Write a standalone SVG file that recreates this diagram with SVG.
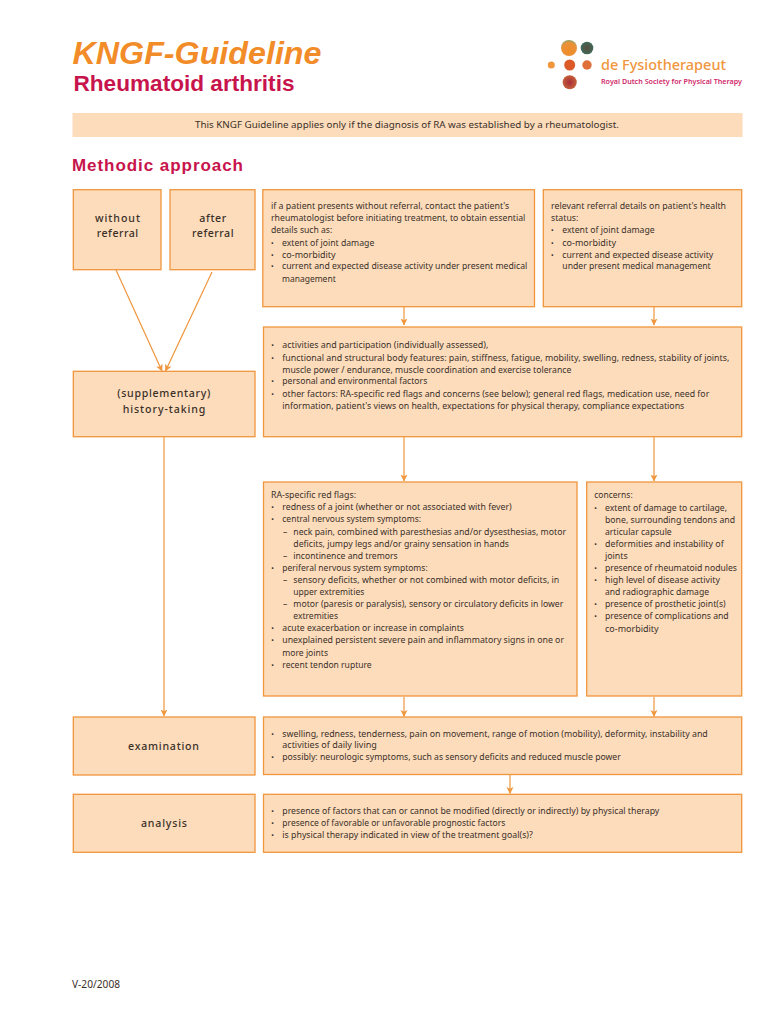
<svg xmlns="http://www.w3.org/2000/svg" width="768" height="1024" viewBox="0 0 768 1024">
<style>
text{font-family:"Noto Sans","Open Sans","DejaVu Sans",sans-serif;fill:#3a3028}
.b{fill:#fddcbc;stroke:#f0963c;stroke-width:1.3}
.c{stroke:#f0963c;stroke-width:1.2;fill:none}
.t{font-size:8.6px}
.d{font-size:7px}
.l{font-size:10.6px;font-weight:500}
.h{font-family:"Liberation Sans",Arial,sans-serif;font-weight:700}
</style>
<defs>
<marker id="a" markerUnits="userSpaceOnUse" markerWidth="8" markerHeight="8" refX="6.5" refY="3.5" orient="auto"><path d="M0 0L7 3.5L0 7L1.8 3.5Z" fill="#f0963c"/></marker>
<radialGradient id="g1" cy=".65" r=".62"><stop offset="0" stop-color="#f08c28"/><stop offset=".8" stop-color="#e8923a"/><stop offset="1" stop-color="#9aa060"/></radialGradient>
<radialGradient id="g2"><stop offset="0" stop-color="#5a4a3c"/><stop offset="1" stop-color="#3f6a58"/></radialGradient>
<radialGradient id="g3"><stop offset="0" stop-color="#a82c38"/><stop offset="1" stop-color="#c4603a"/></radialGradient>
</defs>
<rect width="768" height="1024" fill="#fff"/>
<g id="title">
<text class="h" x="72.5" y="64.3" textLength="249" lengthAdjust="spacingAndGlyphs" style="font-size:32px;font-style:italic;fill:#f28c28">KNGF-Guideline</text>
<text class="h" x="73.5" y="91" textLength="221" lengthAdjust="spacingAndGlyphs" style="font-size:22px;fill:#c8144c">Rheumatoid arthritis</text>
</g>
<g id="logo">
<circle cx="569" cy="48" r="8" fill="url(#g1)"/><circle cx="587" cy="48" r="6.3" fill="url(#g2)"/>
<circle cx="551.3" cy="65" r="3.5" fill="#f0963c"/><circle cx="569.7" cy="65" r="5.5" fill="#dc5a28"/><circle cx="587" cy="65" r="4.7" fill="#e0703a"/>
<circle cx="569.7" cy="82.3" r="7" fill="url(#g3)"/>
<text x="601" y="69.5" style="font-size:14px;font-weight:500;fill:#f0963c" textLength="125" lengthAdjust="spacingAndGlyphs">de Fysiotherapeut</text>
<text x="601" y="83.7" style="font-size:6.6px;font-weight:600;fill:#d0286a" textLength="141" lengthAdjust="spacingAndGlyphs">Royal Dutch Society for Physical Therapy</text>
</g>
<g id="banner"><rect x="72.5" y="113" width="670" height="24" fill="#fddcbc"/>
<text class="t" x="195" y="128" style="font-size:9.4px" textLength="424" lengthAdjust="spacingAndGlyphs">This KNGF Guideline applies only if the diagnosis of RA was established by a rheumatologist.</text></g>
<text class="h" x="72" y="171" textLength="171" lengthAdjust="spacing" style="font-size:17px;fill:#c8144c">Methodic approach</text>

<g id="connectors">
<path class="c" d="M116 270L162 371" marker-end="url(#a)"/>
<path class="c" d="M212 272L165.5 371" marker-end="url(#a)"/>
<path class="c" d="M164 437V716" marker-end="url(#a)"/>
<path class="c" d="M404 307V325" marker-end="url(#a)"/>
<path class="c" d="M654 307V325" marker-end="url(#a)"/>
<path class="c" d="M404 437V481" marker-end="url(#a)"/>
<path class="c" d="M654 437V481" marker-end="url(#a)"/>
<path class="c" d="M404 697V716.5" marker-end="url(#a)"/>
<path class="c" d="M654 697V716.5" marker-end="url(#a)"/>
<path class="c" d="M510 775V793.5" marker-end="url(#a)"/>
</g>
<g id="n-without"><rect class="b" x="73.3" y="189.7" width="87.7" height="80"/><text class="l" x="95" y="222" textLength="45" lengthAdjust="spacing">without</text><text class="l" x="96.7" y="237.2" textLength="41.5" lengthAdjust="spacing">referral</text></g>
<g id="n-after"><rect class="b" x="170" y="189.7" width="85" height="80"/><text class="l" x="199.3" y="222" textLength="27" lengthAdjust="spacing">after</text><text class="l" x="192" y="237.2" textLength="41.5" lengthAdjust="spacing">referral</text></g>
<g id="n-history"><rect class="b" x="73.3" y="371.3" width="181.7" height="65.4"/><text class="l" x="117.3" y="397" textLength="93" lengthAdjust="spacing">(supplementary)</text><text class="l" x="122.7" y="412.5" textLength="82.7" lengthAdjust="spacing">history-taking</text></g>
<g id="n-exam"><rect class="b" x="73.3" y="717" width="181.7" height="58"/><text class="l" x="128" y="750" textLength="71" lengthAdjust="spacing">examination</text></g>
<g id="n-analysis"><rect class="b" x="73.3" y="794.3" width="181.7" height="58"/><text class="l" x="141" y="827" textLength="46" lengthAdjust="spacing">analysis</text></g>

<g id="n-contact"><rect class="b" x="262.8" y="189.7" width="271.7" height="117"/>
<text class="t" x="271" y="209.3" textLength="238.3" lengthAdjust="spacingAndGlyphs">if a patient presents without referral, contact the patient's</text>
<text class="t" x="271" y="221.2" textLength="254.3" lengthAdjust="spacingAndGlyphs">rheumatologist before initiating treatment, to obtain essential</text>
<text class="t" x="271" y="233.3" textLength="61.3" lengthAdjust="spacingAndGlyphs">details such as:</text>
<text class="d" x="271" y="245.5">•</text><text class="t" x="282" y="245.5" textLength="92.3" lengthAdjust="spacingAndGlyphs">extent of joint damage</text>
<text class="d" x="271" y="257.5">•</text><text class="t" x="282" y="257.5" textLength="53.7" lengthAdjust="spacingAndGlyphs">co-morbidity</text>
<text class="d" x="271" y="269.3">•</text><text class="t" x="282" y="269.3" textLength="245.3" lengthAdjust="spacingAndGlyphs">current and expected disease activity under present medical</text>
<text class="t" x="282" y="281.7" textLength="53.7" lengthAdjust="spacingAndGlyphs">management</text></g>
<g id="n-details"><rect class="b" x="543.3" y="189.7" width="198.4" height="117"/>
<text class="t" x="551" y="209.3" textLength="175" lengthAdjust="spacingAndGlyphs">relevant referral details on patient's health</text>
<text class="t" x="551" y="221.2" textLength="27.3" lengthAdjust="spacingAndGlyphs">status:</text>
<text class="d" x="551" y="233.3">•</text><text class="t" x="562.3" y="233.3" textLength="92.4" lengthAdjust="spacingAndGlyphs">extent of joint damage</text>
<text class="d" x="551" y="245.5">•</text><text class="t" x="562.3" y="245.5" textLength="53.7" lengthAdjust="spacingAndGlyphs">co-morbidity</text>
<text class="d" x="551" y="257.5">•</text><text class="t" x="562.3" y="257.5" textLength="151" lengthAdjust="spacingAndGlyphs">current and expected disease activity</text>
<text class="t" x="562.3" y="269.3" textLength="148.4" lengthAdjust="spacingAndGlyphs">under present medical management</text></g>
<g id="n-activities"><rect class="b" x="263.5" y="327" width="478.2" height="109.7"/>
<text class="d" x="271.3" y="348.3">•</text><text class="t" x="282.3" y="348.3" textLength="206" lengthAdjust="spacingAndGlyphs">activities and participation (individually assessed),</text>
<text class="d" x="271.3" y="360.6">•</text><text class="t" x="282.3" y="360.6" textLength="447" lengthAdjust="spacingAndGlyphs">functional and structural body features: pain, stiffness, fatigue, mobility, swelling, redness, stability of joints,</text>
<text class="t" x="282.3" y="372.7" textLength="289" lengthAdjust="spacingAndGlyphs">muscle power / endurance, muscle coordination and exercise tolerance</text>
<text class="d" x="271.3" y="384.4">•</text><text class="t" x="282.3" y="384.4" textLength="145" lengthAdjust="spacingAndGlyphs">personal and environmental factors</text>
<text class="d" x="271.3" y="396.7">•</text><text class="t" x="282.3" y="396.7" textLength="427" lengthAdjust="spacingAndGlyphs">other factors: RA-specific red flags and concerns (see below); general red flags, medication use, need for</text>
<text class="t" x="282.3" y="409" textLength="402" lengthAdjust="spacingAndGlyphs">information, patient's views on health, expectations for physical therapy, compliance expectations</text></g>
<g id="n-redflags"><rect class="b" x="263.5" y="482" width="313.5" height="214"/>
<text class="t" x="271" y="498.3" textLength="85" lengthAdjust="spacingAndGlyphs">RA-specific red flags:</text>
<text class="d" x="271.3" y="510.3">•</text><text class="t" x="282.3" y="510.3" textLength="229.4" lengthAdjust="spacingAndGlyphs">redness of a joint (whether or not associated with fever)</text>
<text class="d" x="271.3" y="522.4">•</text><text class="t" x="282.3" y="522.4" textLength="138.7" lengthAdjust="spacingAndGlyphs">central nervous system symptoms:</text>
<text class="t" x="283" y="535">–</text><text class="t" x="293.3" y="535" textLength="272.7" lengthAdjust="spacingAndGlyphs">neck pain, combined with paresthesias and/or dysesthesias, motor</text>
<text class="t" x="293.3" y="547" textLength="215.7" lengthAdjust="spacingAndGlyphs">deficits, jumpy legs and/or grainy sensation in hands</text>
<text class="t" x="283" y="558.7">–</text><text class="t" x="293.3" y="558.7" textLength="104.4" lengthAdjust="spacingAndGlyphs">incontinence and tremors</text>
<text class="d" x="271.3" y="571">•</text><text class="t" x="282.3" y="571" textLength="145.4" lengthAdjust="spacingAndGlyphs">periferal nervous system symptoms:</text>
<text class="t" x="283" y="583.3">–</text><text class="t" x="293.3" y="583.3" textLength="266" lengthAdjust="spacingAndGlyphs">sensory deficits, whether or not combined with motor deficits, in</text>
<text class="t" x="293.3" y="595" textLength="71" lengthAdjust="spacingAndGlyphs">upper extremities</text>
<text class="t" x="283" y="607">–</text><text class="t" x="293.3" y="607" textLength="270" lengthAdjust="spacingAndGlyphs">motor (paresis or paralysis), sensory or circulatory deficits in lower</text>
<text class="t" x="293.3" y="619.3" textLength="44.7" lengthAdjust="spacingAndGlyphs">extremities</text>
<text class="d" x="271.3" y="631">•</text><text class="t" x="282.3" y="631" textLength="181.7" lengthAdjust="spacingAndGlyphs">acute exacerbation or increase in complaints</text>
<text class="d" x="271.3" y="643.3">•</text><text class="t" x="282.3" y="643.3" textLength="281.7" lengthAdjust="spacingAndGlyphs">unexplained persistent severe pain and inflammatory signs in one or</text>
<text class="t" x="282.3" y="655.7" textLength="45.7" lengthAdjust="spacingAndGlyphs">more joints</text>
<text class="d" x="271.3" y="668">•</text><text class="t" x="282.3" y="668" textLength="89.4" lengthAdjust="spacingAndGlyphs">recent tendon rupture</text></g>
<g id="n-concerns"><rect class="b" x="586.7" y="482" width="155" height="214"/>
<text class="t" x="594.3" y="498.3" textLength="38.4" lengthAdjust="spacingAndGlyphs">concerns:</text>
<text class="d" x="594.3" y="510.7">•</text><text class="t" x="605" y="510.7" textLength="122" lengthAdjust="spacingAndGlyphs">extent of damage to cartilage,</text>
<text class="t" x="605" y="522.7" textLength="130" lengthAdjust="spacingAndGlyphs">bone, surrounding tendons and</text>
<text class="t" x="605" y="534.7" textLength="66.7" lengthAdjust="spacingAndGlyphs">articular capsule</text>
<text class="d" x="594.3" y="546.7">•</text><text class="t" x="605" y="546.7" textLength="118.7" lengthAdjust="spacingAndGlyphs">deformities and instability of</text>
<text class="t" x="605" y="558.7" textLength="22.7" lengthAdjust="spacingAndGlyphs">joints</text>
<text class="d" x="594.3" y="571">•</text><text class="t" x="605" y="571" textLength="132" lengthAdjust="spacingAndGlyphs">presence of rheumatoid nodules</text>
<text class="d" x="594.3" y="583.3">•</text><text class="t" x="605" y="583.3" textLength="115" lengthAdjust="spacingAndGlyphs">high level of disease activity</text>
<text class="t" x="605" y="595" textLength="104" lengthAdjust="spacingAndGlyphs">and radiographic damage</text>
<text class="d" x="594.3" y="607.3">•</text><text class="t" x="605" y="607.3" textLength="120.7" lengthAdjust="spacingAndGlyphs">presence of prosthetic joint(s)</text>
<text class="d" x="594.3" y="619.3">•</text><text class="t" x="605" y="619.3" textLength="123.7" lengthAdjust="spacingAndGlyphs">presence of complications and</text>
<text class="t" x="605" y="631.7" textLength="53.7" lengthAdjust="spacingAndGlyphs">co-morbidity</text></g>
<g id="n-examtext"><rect class="b" x="263.5" y="717" width="478.2" height="57.5"/>
<text class="d" x="271.3" y="736.7">•</text><text class="t" x="282.3" y="736.7" textLength="425.5" lengthAdjust="spacingAndGlyphs">swelling, redness, tenderness, pain on movement, range of motion (mobility), deformity, instability and</text>
<text class="t" x="282.3" y="748.4" textLength="94.5" lengthAdjust="spacingAndGlyphs">activities of daily living</text>
<text class="d" x="271.3" y="760">•</text><text class="t" x="282.3" y="760" textLength="338.5" lengthAdjust="spacingAndGlyphs">possibly: neurologic symptoms, such as sensory deficits and reduced muscle power</text></g>
<g id="n-analysistext"><rect class="b" x="263.5" y="794.3" width="478.2" height="58"/>
<text class="d" x="271.3" y="813.7">•</text><text class="t" x="282.3" y="813.7" textLength="377" lengthAdjust="spacingAndGlyphs">presence of factors that can or cannot be modified (directly or indirectly) by physical therapy</text>
<text class="d" x="271.3" y="826">•</text><text class="t" x="282.3" y="826" textLength="223" lengthAdjust="spacingAndGlyphs">presence of favorable or unfavorable prognostic factors</text>
<text class="d" x="271.3" y="838.3">•</text><text class="t" x="282.3" y="838.3" textLength="250.5" lengthAdjust="spacingAndGlyphs">is physical therapy indicated in view of the treatment goal(s)?</text></g>
<text x="72" y="988" style="font-size:10px" textLength="48" lengthAdjust="spacingAndGlyphs">V-20/2008</text>
</svg>
